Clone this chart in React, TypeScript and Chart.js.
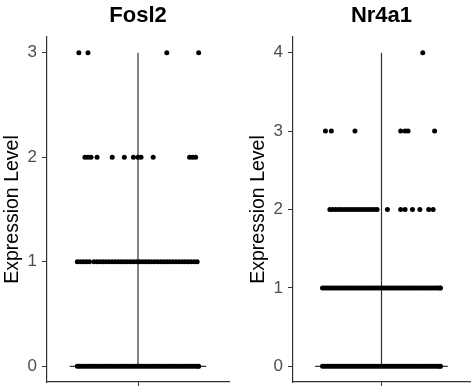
import React, { useEffect, useRef } from "react";
import { Chart, registerables } from "chart.js";

Chart.register(...registerables);

// ---------- data ----------
const geneNames = ["Fosl2", "Nr4a1"];
const axisTitle = "Expression Level";

const fosl2Ticks = [0, 1, 2, 3];
const nr4a1Ticks = [0, 1, 2, 3, 4];

// jitter offsets (x relative to category centre) of cells at each expression level
const fosl2Level3 = [-0.39, -0.33, 0.19, 0.4];
const fosl2Level2 = [-0.35, -0.33, -0.31, -0.27, -0.17, -0.09, -0.03, 0.0, 0.02, 0.1, 0.34, 0.36, 0.38];
const fosl2Level1 = [
  -0.4, -0.38, -0.36, -0.34, -0.32, -0.29, -0.27, -0.25, -0.23, -0.21, -0.19, -0.17, -0.15, -0.13,
  -0.11, -0.09, -0.07, -0.05, -0.03, -0.01, 0.01, 0.03, 0.05, 0.07, 0.09, 0.11, 0.13, 0.15, 0.17,
  0.19, 0.21, 0.23, 0.25, 0.27, 0.29, 0.31, 0.33, 0.35, 0.37, 0.39,
];
const fosl2Level0 = [
  -0.4, -0.385, -0.37, -0.355, -0.34, -0.325, -0.31, -0.295, -0.28, -0.265, -0.25, -0.235, -0.22,
  -0.205, -0.19, -0.175, -0.16, -0.145, -0.13, -0.115, -0.1, -0.085, -0.07, -0.055, -0.04, -0.025,
  -0.01, 0.005, 0.02, 0.035, 0.05, 0.065, 0.08, 0.095, 0.11, 0.125, 0.14, 0.155, 0.17, 0.185, 0.2,
  0.215, 0.23, 0.245, 0.26, 0.275, 0.29, 0.305, 0.32, 0.335, 0.35, 0.365, 0.38, 0.395, 0.4,
];

const nr4a1Level4 = [0.28];
const nr4a1Level3 = [-0.38, -0.34, -0.18, 0.13, 0.16, 0.18, 0.36];
const nr4a1Level2 = [
  -0.35, -0.33, -0.31, -0.29, -0.27, -0.25, -0.23, -0.21, -0.19, -0.17, -0.15, -0.13, -0.11, -0.09,
  -0.07, -0.05, -0.03, 0.04, 0.13, 0.16, 0.21, 0.26, 0.32, 0.35,
];
const nr4a1Level1 = [
  -0.4, -0.385, -0.37, -0.355, -0.34, -0.325, -0.31, -0.295, -0.28, -0.265, -0.25, -0.235, -0.22,
  -0.205, -0.19, -0.175, -0.16, -0.145, -0.13, -0.115, -0.1, -0.085, -0.07, -0.055, -0.04, -0.025,
  -0.01, 0.005, 0.02, 0.035, 0.05, 0.065, 0.08, 0.095, 0.11, 0.125, 0.14, 0.155, 0.17, 0.185, 0.2,
  0.215, 0.23, 0.245, 0.26, 0.275, 0.29, 0.305, 0.32, 0.335, 0.35, 0.365, 0.38, 0.395, 0.4,
];
const nr4a1Level0 = [
  -0.4, -0.385, -0.37, -0.355, -0.34, -0.325, -0.31, -0.295, -0.28, -0.265, -0.25, -0.235, -0.22,
  -0.205, -0.19, -0.175, -0.16, -0.145, -0.13, -0.115, -0.1, -0.085, -0.07, -0.055, -0.04, -0.025,
  -0.01, 0.005, 0.02, 0.035, 0.05, 0.065, 0.08, 0.095, 0.11, 0.125, 0.14, 0.155, 0.17, 0.185, 0.2,
  0.215, 0.23, 0.245, 0.26, 0.275, 0.29, 0.305, 0.32, 0.335, 0.35, 0.365, 0.38, 0.395, 0.4,
];

type Level = { value: number; offsets: number[] };
type Panel = { title: string; ticks: number[]; levels: Level[] };

const panels: Panel[] = [
  {
    title: geneNames[0],
    ticks: fosl2Ticks,
    levels: [
      { value: 0, offsets: fosl2Level0 },
      { value: 1, offsets: fosl2Level1 },
      { value: 2, offsets: fosl2Level2 },
      { value: 3, offsets: fosl2Level3 },
    ],
  },
  {
    title: geneNames[1],
    ticks: nr4a1Ticks,
    levels: [
      { value: 0, offsets: nr4a1Level0 },
      { value: 1, offsets: nr4a1Level1 },
      { value: 2, offsets: nr4a1Level2 },
      { value: 3, offsets: nr4a1Level3 },
      { value: 4, offsets: nr4a1Level4 },
    ],
  },
];

const FONT = "'Liberation Sans', Arial, Helvetica, sans-serif";
const W = 237;
const H = 389;

const labelPlugin = (title: string) => ({
  id: "labels-" + title,
  afterDraw(chart: any) {
    const { ctx, chartArea } = chart;
    ctx.save();
    ctx.fillStyle = "#000";
    ctx.font = `bold 22px ${FONT}`;
    ctx.textAlign = "center";
    ctx.textBaseline = "middle";
    ctx.fillText(title, (chartArea.left + chartArea.right) / 2, 15.5);
    ctx.translate(chartArea.left - 34.5, (chartArea.top + chartArea.bottom) / 2);
    ctx.rotate(-Math.PI / 2);
    ctx.font = `19.5px ${FONT}`;
    ctx.fillText(axisTitle, 0, 0);
    ctx.restore();
  },
});

function PanelChart({ panel, axisLeft, padRight }: { panel: Panel; axisLeft: number; padRight: number }) {
  const ref = useRef<HTMLCanvasElement | null>(null);
  useEffect(() => {
    if (!ref.current) return;
    const maxVal = Math.max(...panel.levels.map((l) => l.value));
    const points = panel.levels.flatMap((l) => l.offsets.map((o) => ({ x: 1 + o, y: l.value })));
    const violinH = [
      { x: 1 - 0.45, y: 0 },
      { x: 1 + 0.45, y: 0 },
    ];
    const violinV = [
      { x: 1, y: 0 },
      { x: 1, y: maxVal },
    ];
    const chart = new Chart(ref.current, {
      type: "scatter",
      data: {
        datasets: [
          {
            data: points,
            backgroundColor: "#000",
            borderWidth: 0,
            pointRadius: 2.5,
            order: 0,
          } as any,
          {
            data: violinH,
            showLine: true,
            borderColor: "#333",
            borderWidth: 1.2,
            pointRadius: 0,
            order: 1,
          } as any,
          {
            data: violinV,
            showLine: true,
            borderColor: "#333",
            borderWidth: 1.2,
            pointRadius: 0,
            order: 1,
          } as any,
        ],
      },
      options: {
        animation: false,
        responsive: false,
        maintainAspectRatio: false,
        events: [],
        layout: { padding: { top: 37, left: 0, right: padRight, bottom: 0 } },
        plugins: { legend: { display: false }, tooltip: { enabled: false }, title: { display: false } },
        scales: {
          x: {
            type: "linear",
            min: 0.4,
            max: 1.6,
            afterBuildTicks: (s: any) => {
              s.ticks = [{ value: 1 }];
            },
            afterFit: (s: any) => {
              s.height = 7;
              s.paddingLeft = 0;
              s.paddingRight = 0;
            },
            ticks: { display: false },
            grid: { display: true, drawOnChartArea: false, drawTicks: true, tickLength: 4, color: "#333", lineWidth: 1 },
            border: { display: true, color: "#333", width: 1.2 },
          },
          y: {
            type: "linear",
            min: -0.05 * maxVal,
            max: 1.05 * maxVal,
            afterBuildTicks: (s: any) => {
              s.ticks = panel.ticks.map((v) => ({ value: v }));
            },
            afterFit: (s: any) => {
              s.width = axisLeft;
              s.paddingTop = 0;
              s.paddingBottom = 0;
            },
            ticks: { font: { family: FONT, size: 17 }, color: "#4d4d4d", padding: 5 },
            grid: { display: true, drawOnChartArea: false, drawTicks: true, tickLength: 5, color: "#333", lineWidth: 1 },
            border: { display: true, color: "#333", width: 1.2 },
          },
        },
      },
      plugins: [labelPlugin(panel.title)],
    });
    return () => chart.destroy();
  }, [panel, axisLeft, padRight]);
  return <canvas ref={ref} width={W} height={H} style={{ width: W, height: H, display: "block" }} />;
}

export default function App() {
  return (
    <div style={{ position: "absolute", left: 0, top: 0, width: 474, height: 389, background: "#fff", display: "flex" }}>
      <PanelChart panel={panels[0]} axisLeft={47} padRight={8} />
      <PanelChart panel={panels[1]} axisLeft={56} padRight={0} />
    </div>
  );
}
